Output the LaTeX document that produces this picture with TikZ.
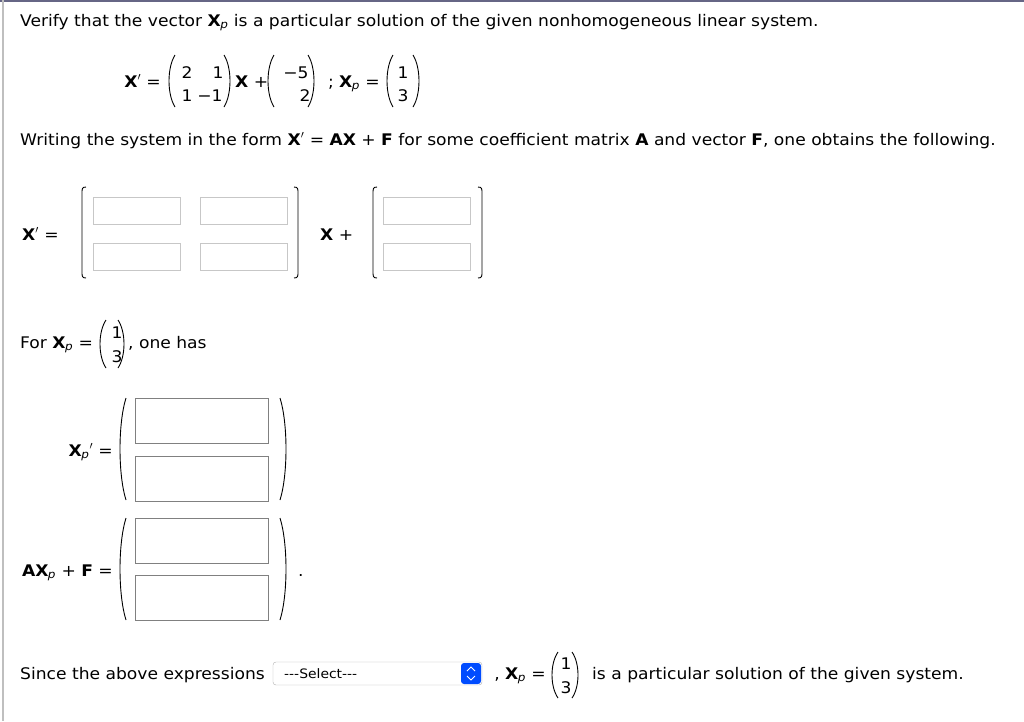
\documentclass[tikz,border=0pt]{standalone}
\usepackage{fontspec}
\setmainfont[FakeStretch=1.07]{DejaVu Sans}
\begin{document}
\begin{tikzpicture}[x=1pt,y=-1pt,
  txt/.style={anchor=base west,inner sep=0pt,font=\fontsize{16}{19}\selectfont},
  num/.style={anchor=base,inner sep=0pt,font=\fontsize{16}{19}\selectfont},
  lbox/.style={draw=black!22,line width=0.8pt},
  dbox/.style={draw=black!50,line width=1pt},
  par/.style={line width=0.9pt}]
\useasboundingbox (0,0) rectangle (1024,721);
\fill[white] (0,0) rectangle (1024,721);
\draw[line width=2pt,draw=black!40!blue!20!gray] (0,0.5) -- (1024,0.5);
\draw[line width=1.2pt,black!25] (3,0) -- (3,721);
\newcommand\Xp{\textbf{X}\textsubscript{\kern-0.5pt\textit{p}}}
\newcommand\lp[3]{\draw[par] ({#1+8},{#2}) .. controls ({#1},{#2+(#3-#2)*0.25}) and ({#1},{#3-(#3-#2)*0.25}) .. ({#1+8},{#3});}
\newcommand\rp[3]{\draw[par] ({#1-8},{#2}) .. controls ({#1},{#2+(#3-#2)*0.25}) and ({#1},{#3-(#3-#2)*0.25}) .. ({#1-8},{#3});}
\newcommand\lbr[3]{\draw[par] ({#1+4},{#2}) .. controls ({#1},{#2}) and ({#1},{#2+2}) .. ({#1},{#2+6}) -- ({#1},{#3-6}) .. controls ({#1},{#3-2}) and ({#1},{#3}) .. ({#1+4},{#3});}
\newcommand\rbr[3]{\draw[par] ({#1-4},{#2}) .. controls ({#1},{#2}) and ({#1},{#2+2}) .. ({#1},{#2+6}) -- ({#1},{#3-6}) .. controls ({#1},{#3-2}) and ({#1},{#3}) .. ({#1-4},{#3});}
\node[txt] (t1) at (20,26) {Verify that the vector \Xp{} is a particular solution of the given nonhomogeneous linear system.};
% equation
\node[txt,anchor=base east] (e1) at (161,87) {\textbf{X}$'$ =};
\lp{167}{55}{107}
\node[num] (a11) at (187,78) {2};
\node[num] (a12) at (218,78) {1};
\node[num] (a21) at (187,101) {1};
\node[num] (a22) at (210,101) {−1};
\rp{232}{55}{107}
\node[txt] (e2) at (235,87) {\textbf{X} +};
\lp{266}{55}{107}
\node[num] (f1) at (296,78) {−5};
\node[num] (f2) at (305,101) {2};
\rp{316}{55}{107}
\node[txt,anchor=base east] (e3) at (380,87) {; \Xp{} =};
\lp{385}{55}{107}
\node[num] (p1) at (403,78) {1};
\node[num] (p2) at (403,101) {3};
\rp{421}{55}{107}
\node[txt] (t2) at (20,145) {Writing the system in the form \textbf{X}$'$ = \textbf{AX} + \textbf{F} for some coefficient matrix \textbf{A} and vector \textbf{F}, one obtains the following.};
% matrix block
\node[txt] (m0) at (22,240) {\textbf{X}$'$ =};
\lbr{82}{187}{278}
\draw[lbox] (93,197) rectangle (180,224);
\draw[lbox] (200,197) rectangle (287,224);
\draw[lbox] (93,243) rectangle (180,270);
\draw[lbox] (200,243) rectangle (287,270);
\rbr{298}{187}{278}
\node[txt] (m1) at (320,240) {\textbf{X} +};
\lbr{373}{187}{278}
\draw[lbox] (383,197) rectangle (470,224);
\draw[lbox] (383,243) rectangle (470,270);
\rbr{482}{187}{278}
% For Xp
\node[txt] (fx) at (20,348) {For \Xp{} =};
\lp{98}{320}{368}
\node[num] (q1) at (117,338) {1};
\node[num] (q2) at (117,362) {3};
\rp{126}{320}{368}
\node[txt] (fx2) at (128,348) {, one has};
% Xp'
\node[txt,anchor=base east] (xd) at (113,456) {\Xp$'$ =};
\lp{118}{398}{500}
\draw[dbox] (135,398) rectangle (268,443);
\draw[dbox] (135,456) rectangle (268,501);
\rp{288}{398}{500}
\node[txt,anchor=base east] (ax) at (113,576) {\textbf{AX}\textsubscript{\kern-0.5pt\textit{p}} + \textbf{F} =};
\lp{118}{518}{620}
\draw[dbox] (135,518) rectangle (268,563);
\draw[dbox] (135,575) rectangle (268,620);
\rp{288}{518}{620}
\node[txt] (dot) at (298,576) {.};
% last line
\node[txt] (s1) at (20,679) {Since the above expressions};
\draw[rounded corners=3pt,draw=black!30,fill=white] (273,662) rectangle (482,685);
\fill[rounded corners=3pt,fill=blue!70!cyan] (461,663) rectangle (481,684);
\draw[white,line width=1pt] (467,671) -- (471,667) -- (475,671) (467,676) -- (471,680) -- (475,676);
\node[txt,font=\fontsize{13}{15}\selectfont] (sel) at (284,678) {-{}-{}-Select-{}-{}-};
\node[txt,anchor=base east] (s2) at (546,679) {, \Xp{} =};
\lp{550}{652}{698}
\node[num] (r1) at (566,669) {1};
\node[num] (r2) at (566,693) {3};
\rp{580}{652}{698}
\node[txt] (s3) at (592,679) {is a particular solution of the given system.};
\end{tikzpicture}
\end{document}
